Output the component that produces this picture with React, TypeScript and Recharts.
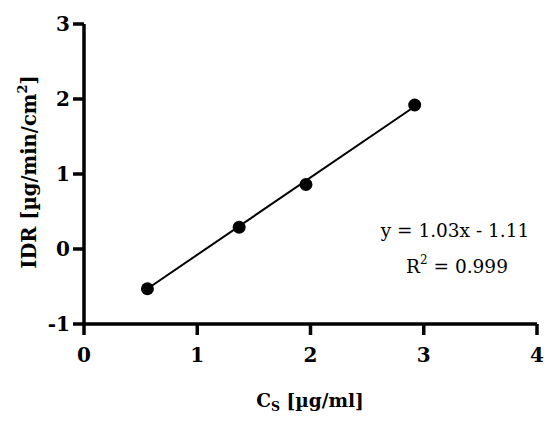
import React from 'react';
import { ScatterChart, Scatter, XAxis, YAxis, Customized } from 'recharts';

const xTicks = [0, 1, 2, 3, 4];
const yTicks = [-1, 0, 1, 2, 3];

const cs = [0.56, 1.37, 1.96, 2.92];
const idr = [-0.53, 0.29, 0.86, 1.92];

const fitX = [0.56, 2.92];
const fitY = [-0.53, 1.9];

const equation = 'y = 1.03x - 1.11';
const r2Value = '0.999';

const points = cs.map((x, i) => ({ x, y: idr[i] }));
const fitLine = fitX.map((x, i) => ({ x, y: fitY[i] }));

const FONT = '"DejaVu Serif", serif';

const Dot = (props: any) => <circle cx={props.cx} cy={props.cy} r={6.5} fill="#000" />;
const NoShape = () => <g />;

const YTitle = () => (
  <text
    transform="translate(36,172) rotate(-90)"
    textAnchor="middle"
    fontFamily={FONT}
    fontWeight="bold"
    fontSize={19.5}
    fill="#000"
  >
    IDR [µg/min/cm<tspan dy={-9} fontSize={13}>2</tspan>
    <tspan dy={9}>]</tspan>
  </text>
);

const XTitle = () => (
  <text x={310} y={407} textAnchor="middle" fontFamily={FONT} fontWeight="bold" fontSize={18.5} fill="#000">
    C<tspan dy={4} fontSize={12.5}>S</tspan>
    <tspan dy={-4}> [µg/ml]</tspan>
  </text>
);

const Notes = () => (
  <g fontFamily={FONT} fontSize={18.5} fill="#000">
    <text x={455} y={237} textAnchor="middle">{equation}</text>
    <text x={457} y={273} textAnchor="middle">
      R<tspan dy={-9} fontSize={12}>2</tspan>
      <tspan dy={9}> = {r2Value}</tspan>
    </text>
  </g>
);

export default function App() {
  const tick = { fill: '#000', fontFamily: FONT, fontWeight: 'bold', fontSize: 20 };
  return (
    <div style={{ position: 'absolute', left: 0, top: 0, width: 550, height: 421, background: '#fff' }}>
      <ScatterChart width={550} height={421} margin={{ top: 24, right: 13, bottom: 37, left: 0 }}>
        <XAxis
          type="number"
          dataKey="x"
          domain={[0, 4]}
          ticks={xTicks}
          tick={tick}
          tickSize={11}
          tickMargin={13}
          height={60}
          axisLine={{ stroke: '#000', strokeWidth: 3.5 }}
          tickLine={{ stroke: '#000', strokeWidth: 3.5 }}
        />
        <YAxis
          type="number"
          dataKey="y"
          domain={[-1, 3]}
          ticks={yTicks}
          tick={tick}
          tickSize={11}
          tickMargin={3}
          width={84}
          axisLine={{ stroke: '#000', strokeWidth: 3.5 }}
          tickLine={{ stroke: '#000', strokeWidth: 3.5 }}
        />
        <Scatter
          data={fitLine}
          line={{ stroke: '#000', strokeWidth: 2 }}
          shape={NoShape}
          isAnimationActive={false}
        />
        <Scatter data={points} shape={Dot} isAnimationActive={false} />
        <Customized component={YTitle} />
        <Customized component={XTitle} />
        <Customized component={Notes} />
      </ScatterChart>
    </div>
  );
}
